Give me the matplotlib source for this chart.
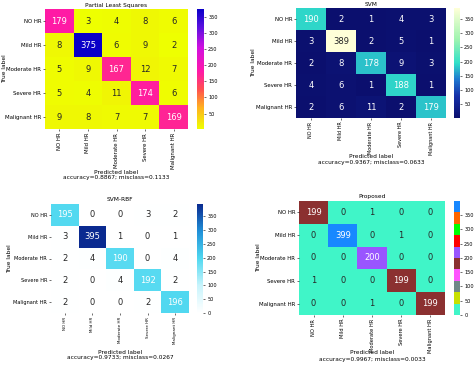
import numpy as np
import matplotlib
matplotlib.use("Agg")
import matplotlib.pyplot as plt
from matplotlib.colors import LinearSegmentedColormap, ListedColormap, to_rgb

labels = ["NO HR", "Mild HR", "Moderate HR", "Severe HR", "Malignant HR"]

pls_cm = [[179, 3, 4, 8, 6],
          [8, 375, 6, 9, 2],
          [5, 9, 167, 12, 7],
          [5, 4, 11, 174, 6],
          [9, 8, 7, 7, 169]]
svm_cm = [[190, 2, 1, 4, 3],
          [3, 389, 2, 5, 1],
          [2, 8, 178, 9, 3],
          [4, 6, 1, 188, 1],
          [2, 6, 11, 2, 179]]
rbf_cm = [[195, 0, 0, 3, 2],
          [3, 395, 1, 0, 1],
          [2, 4, 190, 0, 4],
          [2, 0, 4, 192, 2],
          [2, 0, 0, 2, 196]]
prop_cm = [[199, 0, 1, 0, 0],
           [0, 399, 0, 1, 0],
           [0, 0, 200, 0, 0],
           [1, 0, 0, 199, 0],
           [0, 0, 1, 0, 199]]

titles = ["Partial Least Squares", "SVM", "SVM-RBF", "Proposed"]
accuracies = [0.8867, 0.9367, 0.9733, 0.9967]

cmap1 = LinearSegmentedColormap.from_list("pls", [
    (0.0, "#eeff00"), (0.18, "#ffb020"), (0.33, "#ff5050"),
    (0.48, "#ff18a8"), (0.68, "#d010e0"), (0.85, "#5a10e0"), (1.0, "#0a00c8")])
cmap2 = LinearSegmentedColormap.from_list("svm", [
    (0.0, "#0b0f6e"), (0.2, "#1530a8"), (0.35, "#1e78d0"),
    (0.5, "#30e0c8"), (0.72, "#a0f4b0"), (1.0, "#ffffd8")])
cmap3 = LinearSegmentedColormap.from_list("rbf", [
    (0.0, "#ffffff"), (0.25, "#c8f4fc"), (0.5, "#50d8f0"),
    (0.75, "#2090d8"), (1.0, "#0a2a90")])
cmap4 = ListedColormap(["#40f5c8", "#c8e000", "#708888", "#ff55ff", "#8b3030",
                        "#9955ff", "#ff0000", "#00ff00", "#ff6600", "#1888ff"])

cmaps = [cmap1, cmap2, cmap3, cmap4]
lum_thr = [0.408, 0.8, 0.8, 0.5]
cbar_ticks = [np.arange(50, 351, 50), np.arange(50, 351, 50),
              np.arange(0, 351, 50), np.arange(0, 351, 50)]

# positions in pixels: heatmap (x0, x1, y0, y1), cbar (x0, x1)
W, H = 474, 366
layout = [
    dict(hm=(45, 188, 9, 129), cb=(197, 204), title_y=6, xl_y=(172, 178), yl_x=5,
         xfs=3.9, yfs=3.9),
    dict(hm=(296, 446, 8, 118), cb=(454, 460), title_y=4, xl_y=(156, 163), yl_x=254,
         xfs=3.5, yfs=3.9),
    dict(hm=(51, 189, 204, 313), cb=(197, 203), title_y=199, xl_y=(352, 358), yl_x=10,
         xfs=2.9, yfs=3.6),
    dict(hm=(299, 445, 201, 315), cb=(454, 460), title_y=196, xl_y=(353, 360), yl_x=259,
         xfs=3.7, yfs=3.9),
]

def rel_lum(c):
    r, g, b = to_rgb(c)
    def f(v):
        return v / 12.92 if v <= 0.03928 else ((v + 0.055) / 1.055) ** 2.4
    return 0.2126 * f(r) + 0.7152 * f(g) + 0.0722 * f(b)

fig = plt.figure(figsize=(W / 100, H / 100), dpi=100)
fs_cb = 3.6
fs_annot = 6
fs_lab = 4.2

for k in range(4):
    data = np.array([pls_cm, svm_cm, rbf_cm, prop_cm][k])
    L = layout[k]
    x0, x1, y0, y1 = L["hm"]
    ax = fig.add_axes([x0 / W, 1 - y1 / H, (x1 - x0) / W, (y1 - y0) / H])
    cx0, cx1 = L["cb"]
    cax = fig.add_axes([cx0 / W, 1 - y1 / H, (cx1 - cx0) / W, (y1 - y0) / H])
    vmin, vmax = data.min(), data.max()
    mesh = ax.pcolormesh(data, cmap=cmaps[k], vmin=vmin, vmax=vmax)
    ax.set_xlim(0, 5)
    ax.set_ylim(5, 0)
    ax.set_xticks(np.arange(5) + 0.5)
    ax.set_yticks(np.arange(5) + 0.5)
    ax.set_xticklabels(labels, rotation=90, fontsize=L["xfs"])
    ax.set_yticklabels(labels, fontsize=L["yfs"])
    ax.tick_params(length=1.5, width=0.4, pad=1.2)
    for s in ax.spines.values():
        s.set_visible(False)
    norm = mesh.norm
    for i in range(5):
        for j in range(5):
            v = data[i, j]
            col = cmaps[k](norm(v))
            tc = "w" if rel_lum(col) < lum_thr[k] else ".15"
            ax.text(j + 0.5, i + 0.5, str(v), ha="center", va="center",
                    fontsize=fs_annot, color=tc)
    cb = fig.colorbar(mesh, cax=cax)
    cb.outline.set_visible(False)
    cb.set_ticks(cbar_ticks[k])
    cb.ax.tick_params(labelsize=fs_cb, length=1.5, width=0.4, pad=1.5)
    xc = (x0 + x1) / 2 / W
    fig.text(xc, 1 - L["title_y"] / H, titles[k], ha="center", va="center", fontsize=fs_lab)
    fig.text(xc, 1 - L["xl_y"][0] / H, "Predicted label", ha="center", va="center", fontsize=fs_lab)
    acc = accuracies[k]
    fig.text(xc, 1 - L["xl_y"][1] / H,
             "accuracy={:0.4f}; misclass={:0.4f}".format(acc, 1 - acc),
             ha="center", va="center", fontsize=fs_lab)
    fig.text(L["yl_x"] / W, 1 - (y0 + y1) / 2 / H, "True label", rotation=90,
             ha="center", va="center", fontsize=fs_lab)

fig.savefig("out.png", dpi=100)
